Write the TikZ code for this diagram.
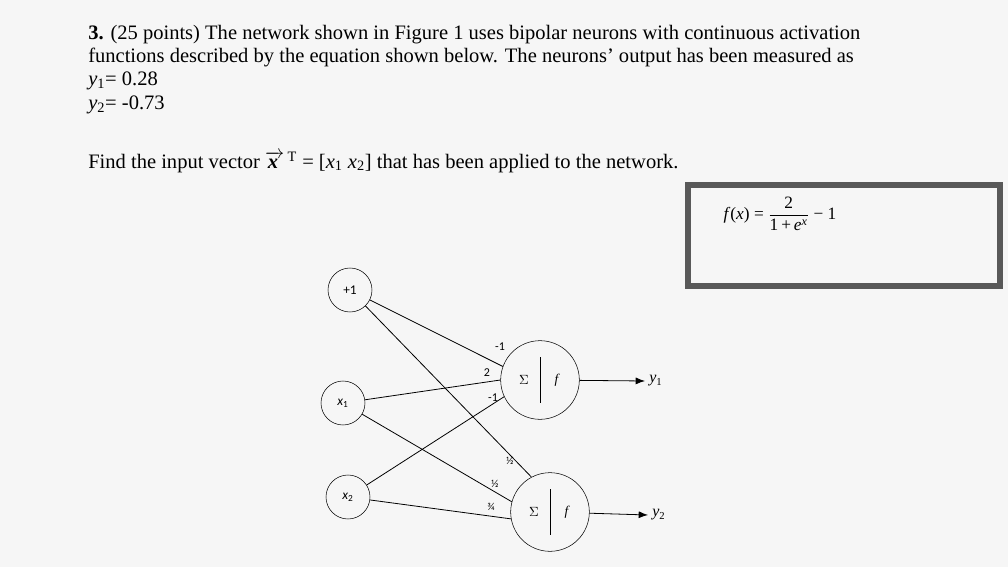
\documentclass[tikz,border=0pt]{standalone}
\usepackage{amsmath}
\usepackage{fontspec}
\setmainfont{Liberation Serif}
\setsansfont{Carlito}
\usetikzlibrary{arrows.meta}
\begin{document}
\begin{tikzpicture}[x=0.75pt,y=-0.75pt,
  txt/.style={anchor=base west,inner sep=0,font=\fontsize{15.4}{17}\selectfont},
  inp/.style={draw,circle,minimum size=33pt,inner sep=0,font=\sffamily},
  neu/.style={draw,circle,minimum size=59pt,inner sep=0},
  wl/.style={inner sep=0,font=\sffamily\small},
  edge/.style={line width=0.6pt}]
\fill[white!93!gray] (0,0) rectangle (1008,567);
\useasboundingbox (0,0) rectangle (1008,567);
\node[txt] (t1) at (88,40) {\textbf{3.} (25 points) The network shown in Figure 1 uses bipolar neurons with continuous activation};
\node[txt] (t2) at (88,63) {functions described by the equation shown below. The neurons’ output has been measured as};
\node[txt] (t3) at (88,86) {\textit{y}\textsubscript{1}= 0.28};
\node[txt] (t4) at (88,110) {\textit{y}\textsubscript{2}= -0.73};
\node[txt] (t5) at (88,168) {Find the input vector $\overrightarrow{\textbf{\textit{x}}\,}$\,\textsuperscript{T} = [\textit{x}\textsubscript{1} \textit{x}\textsubscript{2}] that has been applied to the network.};
\draw[line width=4pt,gray!70!black] (688,185) rectangle (1000,286);
\node[font=\fontsize{13}{15}\selectfont] (fx) at (780,214) {\textit{f}(\textit{x}) = $\dfrac{\textrm{2}}{\textrm{1\,+\,}\textit{e}^{\textit{x}}}$ − 1};
\node[inp] (b) at (350,290) {+1};
\node[inp] (x1) at (343,403) {\textit{x}\textsubscript{1}};
\node[inp] (x2) at (348,497) {\textit{x}\textsubscript{2}};
\node[neu] (n1) at (540,380) {};
\node[neu] (n2) at (550,512) {};
\foreach \n in {n1,n2}{
  \node at ([xshift=-12pt]\n.center) {$\Sigma$};
  \node at ([xshift=13pt]\n.center) {\textit{f}};
  \draw ([yshift=17pt]\n.center) -- ([yshift=-17pt]\n.center);}
\draw[edge] (b) -- (n1.160);
\draw[edge] (b) -- (n2.118);
\draw[edge] (x1) -- (n1.180);
\draw[edge] (x1) -- (n2.165);
\draw[edge] (x2) -- (n1.205);
\draw[edge] (x2) -- (n2.190);
\node[wl] (w1) at (500,347) {-1};
\node[wl] (w2) at (487,373) {2};
\node[wl] (w3) at (493,398) {-1};
\node[wl] (w4) at (510,461) {\footnotesize ½};
\node[wl] (w5) at (495,484) {\footnotesize ½};
\node[wl] (w6) at (491,507) {\footnotesize ¾};
\coordinate (e1) at (645,381);
\coordinate (e2) at (648,515);
\draw[edge,-{Latex[length=7pt]}] (n1) -- (e1);
\draw[edge,-{Latex[length=7pt]}] (n2) -- (e2);
\node[anchor=west,inner sep=3pt,font=\large] (y1) at (e1) {\textit{y}\textsubscript{1}};
\node[anchor=west,inner sep=3pt,font=\large] (y2) at (e2) {\textit{y}\textsubscript{2}};
\end{tikzpicture}
\end{document}
